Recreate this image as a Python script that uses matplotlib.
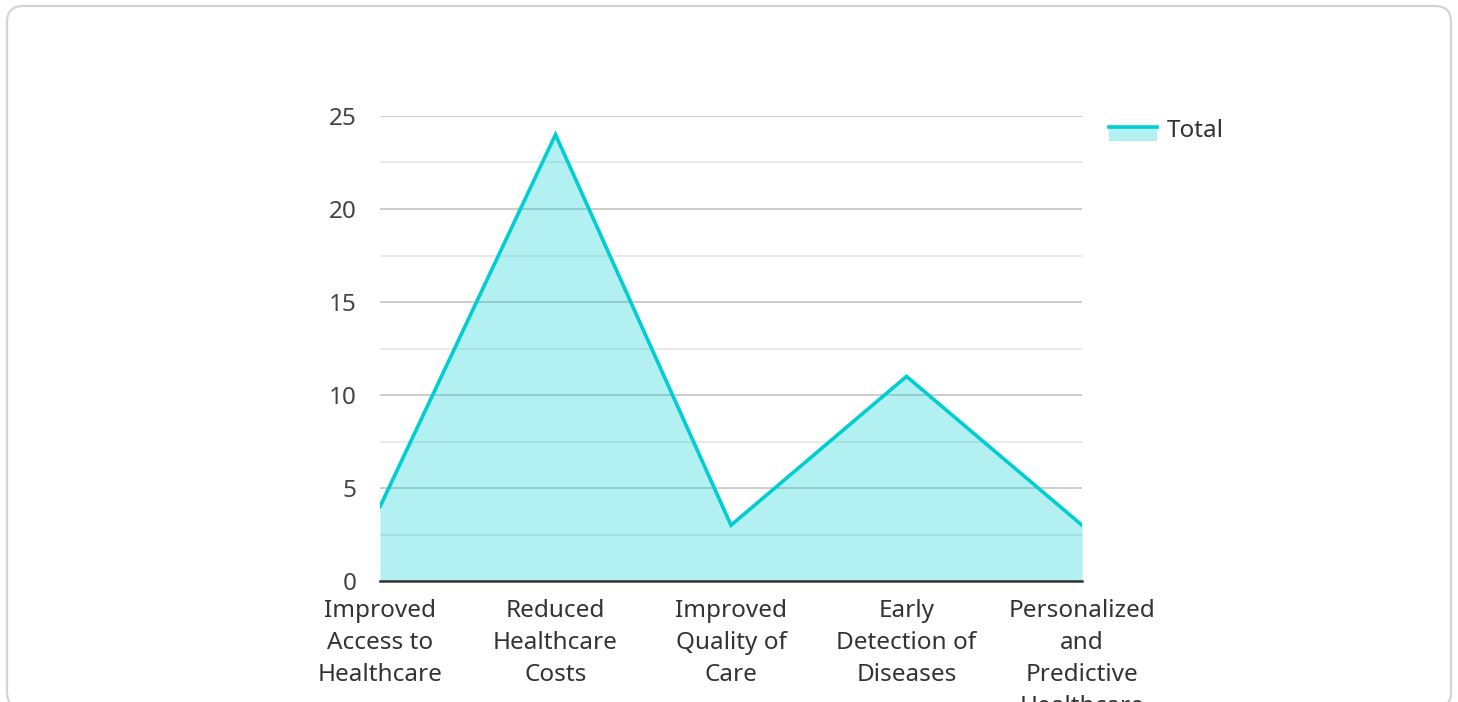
import matplotlib.pyplot as plt
from matplotlib.patches import FancyBboxPatch, Rectangle
from matplotlib.lines import Line2D
from matplotlib.legend_handler import HandlerBase
import numpy as np

plt.rcParams['font.family'] = ['Noto Sans', 'DejaVu Sans']

categories = [
    "Improved\nAccess to\nHealthcare",
    "Reduced\nHealthcare\nCosts",
    "Improved\nQuality of\nCare",
    "Early\nDetection of\nDiseases",
    "Personalized\nand\nPredictive\nHealthcare",
]
totals = [4, 24, 3, 11, 3]
series_name = "Total"

line_color = "#00CED1"
text_color = "#333333"

W, H = 1458, 702
fig = plt.figure(figsize=(W / 100, H / 100), dpi=100)

# card frame behind the chart
card = FancyBboxPatch((7 / W, -6 / H), (1451 - 7) / W, (H - 6 + 6) / H,
                      boxstyle="round,pad=0,rounding_size=0.011",
                      transform=fig.transFigure, facecolor="white",
                      edgecolor="#d4d4d4", linewidth=1.6, zorder=-10)
card.set_mutation_aspect(W / H)
fig.add_artist(card)

ax = fig.add_axes([380 / W, (H - 581) / H, (1082 - 380) / W, (581 - 116) / H])
ax.set_facecolor("none")

x = np.arange(len(categories))
ax.fill_between(x, totals, 0, color=line_color, alpha=0.3, linewidth=0, zorder=3)
ax.plot(x, totals, color=line_color, linewidth=2.6, zorder=4,
        solid_joinstyle="miter")

ax.set_xlim(0, len(categories) - 1)
ax.set_ylim(0, 25)
ax.set_yticks(np.arange(0, 26, 5))
ax.set_yticks(np.arange(2.5, 25, 5), minor=True)
ax.grid(axis="y", which="major", color="#c4c4c4", linewidth=1.2, zorder=1)
ax.grid(axis="y", which="minor", color="#e6e6e6", linewidth=1.2, zorder=1)
ax.set_axisbelow(True)

for side in ("top", "right", "left"):
    ax.spines[side].set_visible(False)
ax.spines["bottom"].set_color("#333333")
ax.spines["bottom"].set_linewidth(1.8)
ax.spines["bottom"].set_zorder(5)

ax.set_xticks(x)
ax.set_xticklabels(categories, fontsize=17.5, color=text_color, linespacing=1.45)
ax.tick_params(axis="x", length=0, pad=13)
ax.tick_params(axis="y", which="both", length=0, pad=17, labelsize=17.5,
               labelcolor="#444444")


class AreaHandler(HandlerBase):
    def create_artists(self, legend, orig_handle, xdescent, ydescent,
                       width, height, fontsize, trans):
        top = height * 0.6
        bottom = -ydescent - height * 0.2
        rect = Rectangle((-xdescent, bottom), width, top - bottom,
                         facecolor=line_color, alpha=0.3, linewidth=0,
                         transform=trans)
        ln = Line2D([-xdescent, -xdescent + width], [top, top],
                    color=line_color, linewidth=2.6, transform=trans)
        return [rect, ln]


leg = ax.legend([object()], [series_name], handler_map={object: AreaHandler()},
                loc="upper left", bbox_to_anchor=(1.007, 1.04), frameon=False,
                fontsize=17.5, handlelength=2.0, handletextpad=0.4,
                labelcolor=text_color)

fig.savefig("out.png", dpi=100)
